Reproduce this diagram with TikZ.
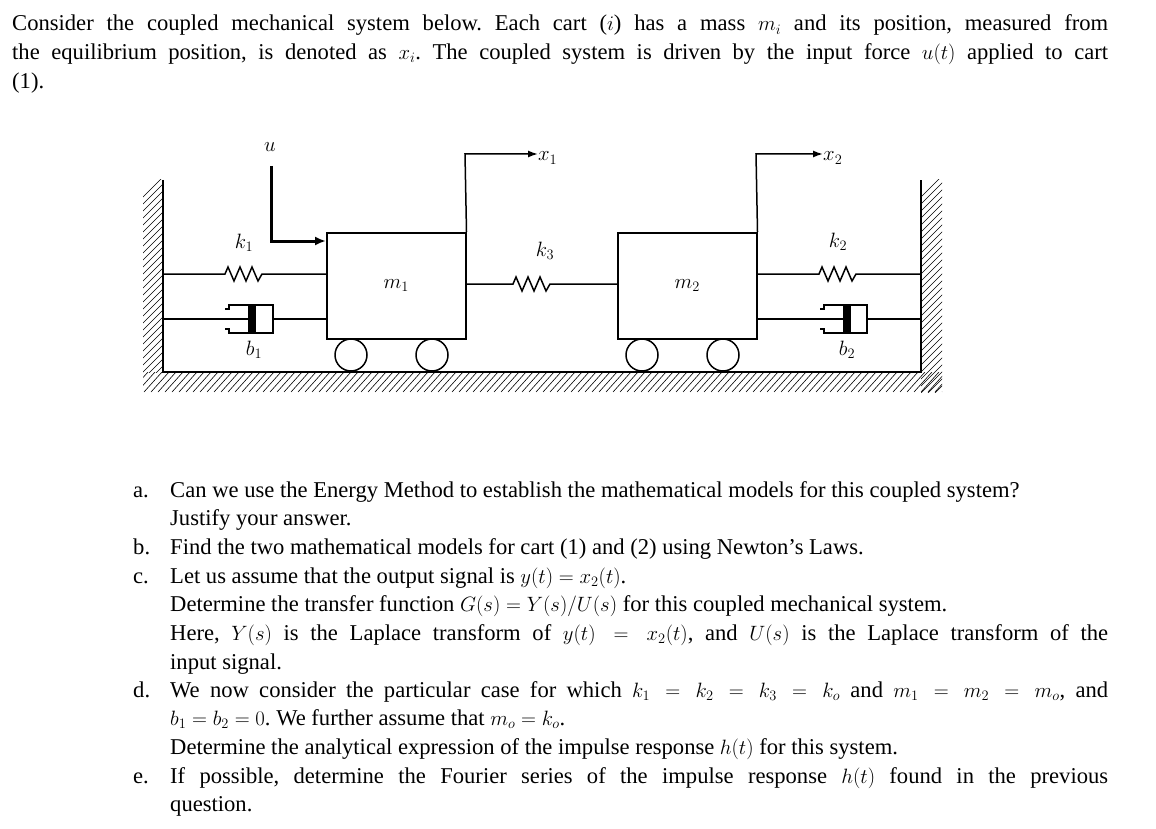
\documentclass[tikz,border=0pt]{standalone}
\usepackage{fontspec}
\setmainfont{Liberation Serif}
\usetikzlibrary{arrows.meta}
\frenchspacing
\begin{document}
\begin{tikzpicture}[x=1pt,y=-1pt,
  ln/.style={line width=1.5pt},
  cart/.style={draw,line width=1.5pt,minimum width=139pt,minimum height=106pt,anchor=north west,inner sep=0pt},
  wheel/.style={draw,line width=1.5pt,circle,minimum size=32pt,inner sep=0pt},
  lab/.style={font=\fontsize{22}{24}\selectfont,inner sep=0pt},
  txt/.style={font=\fontsize{22.6}{28.7}\selectfont,inner sep=0pt,align=justify,anchor=base west},
  hat/.style={line width=0.6pt}]
\useasboundingbox (0,0) rectangle (1156,829);
% paragraph
\node[txt,text width=1096pt] (intro) at (12,31) {Consider the coupled mechanical system below. Each cart ($i$) has a mass $m_i$ and its position, measured from\linebreak the equilibrium position, is denoted as $x_i$. The coupled system is driven by the input force $u(t)$ applied to cart\linebreak (1).};
% hatching
\begin{scope}
\clip (143,372) rectangle (942,392);
\foreach \x in {130,137,...,950} \draw[hat] (\x,392) -- (\x+18,372);
\end{scope}
\begin{scope}
\clip (143,180) rectangle (163,372);
\foreach \y in {180,187,...,380} \draw[hat] (140,\y+20) -- (165,\y-5);
\end{scope}
\begin{scope}
\clip (921,180) rectangle (942,392);
\foreach \y in {180,187,...,395} \draw[hat] (918,\y+20) -- (943,\y-5);
\end{scope}
% walls and floor
\coordinate (lw) at (163,180);
\coordinate (rw) at (921,180);
\coordinate (lf) at (163,372);
\coordinate (rf) at (921,372);
\draw[ln] (lw) -- (lf) -- (rf) -- (rw);
% carts
\node[cart] (c1) at (326,232) {};
\node[cart] (c2) at (617,232) {};
\node[lab] (m1) at (c1.center) {$m_1$};
\node[lab] (m2) at (c2.center) {$m_2$};
\node[wheel] (w1) at (351,355) {};
\node[wheel] (w2) at (432,355) {};
\node[wheel] (w3) at (642,355) {};
\node[wheel] (w4) at (723,355) {};
% springs
\draw[ln] (163,274) -- (225,274) -- ++(3,-7) -- ++(6,14) -- ++(6,-14) -- ++(6,14) -- ++(6,-14) -- ++(6,14) -- ++(4,-7) -- (c1.west |- 0,274);
\draw[ln] (c1.east |- 0,284) -- (513,284) -- ++(3,-7) -- ++(6,14) -- ++(6,-14) -- ++(6,14) -- ++(6,-14) -- ++(6,14) -- ++(4,-7) -- (c2.west |- 0,284);
\draw[ln] (c2.east |- 0,274) -- (819,274) -- ++(3,-7) -- ++(6,14) -- ++(6,-14) -- ++(6,14) -- ++(6,-14) -- ++(6,14) -- ++(4,-7) -- (921,274);
% dampers
\draw[ln] (163,319) -- (249,319);
\fill (248,306) rectangle (256,332);
\draw[ln] (225,309) -- (229,309) -- (229,305) -- (273,305) -- (273,333) -- (229,333) -- (229,329) -- (225,329);
\draw[ln] (273,319) -- (c1.west |- 0,319);
\draw[ln] (c2.east |- 0,319) -- (844,319);
\fill (843,306) rectangle (851,332);
\draw[ln] (820,309) -- (824,309) -- (824,305) -- (867,305) -- (867,333) -- (824,333) -- (824,329) -- (820,329);
\draw[ln] (867,319) -- (921,319);
% labels
\node[lab] (k1) at (244,243) {$k_1$};
\node[lab] (b1) at (254,350) {$b_1$};
\node[lab] (k3) at (545,251) {$k_3$};
\node[lab] (k2) at (838,242) {$k_2$};
\node[lab] (b2) at (847,350) {$b_2$};
% input
\node[lab] (u) at (270,147) {$u$};
\draw[line width=3pt,-{Latex[length=11pt,width=9pt]}] (271,166) -- (271,241) -- (c1.west |- 0,241);
% position arrows
\node[lab,anchor=west] (x1) at (538,158) {$x_1$};
\node[lab,anchor=west] (x2) at (823,158) {$x_2$};
\draw[ln,-{Latex[length=10pt,width=7pt]}] (c1.north east) -- (465,154) -- (x1.west |- 0,154);
\draw[ln,-{Latex[length=10pt,width=7pt]}] (c2.north east) -- (756,154) -- (x2.west |- 0,154);
% questions
\node[txt] (la) at (133,497) {a.};
\node[txt] (lb) at (133,554) {b.};
\node[txt] (lc) at (133,583) {c.};
\node[txt] (ld) at (133,697) {d.};
\node[txt] (le) at (133,783) {e.};
\node[txt,text width=938pt] (qa) at (170,497) {Can we use the Energy Method to establish the mathematical models for this coupled system?\newline Justify your answer.};
\node[txt,text width=938pt] (qb) at (170,554) {Find the two mathematical models for cart (1) and (2) using Newton’s Laws.};
\node[txt,text width=938pt] (qc) at (170,583) {Let us assume that the output signal is $y(t)=x_2(t)$.\newline Determine the transfer function $G(s)=Y(s)/U(s)$ for this coupled mechanical system.\newline Here, $Y(s)$ is the Laplace transform of $y(t)=x_2(t)$, and $U(s)$ is the Laplace transform of the\linebreak input signal.};
\node[txt,text width=938pt] (qd) at (170,697) {We now consider the particular case for which $k_1=k_2=k_3=k_o$ and $m_1=m_2=m_o$, and\linebreak $b_1=b_2=0$. We further assume that $m_o=k_o$.\newline Determine the analytical expression of the impulse response $h(t)$ for this system.};
\node[txt,text width=938pt] (qe) at (170,783) {If possible, determine the Fourier series of the impulse response $h(t)$ found in the previous\linebreak question.};
\end{tikzpicture}
\end{document}
